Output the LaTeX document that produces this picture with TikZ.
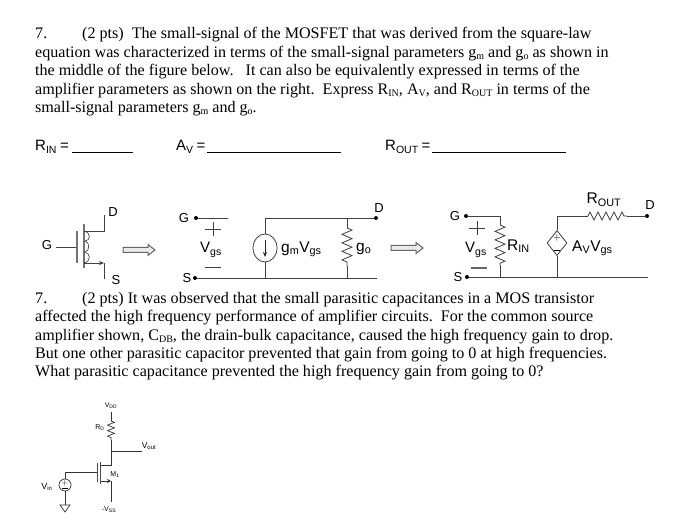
\documentclass[tikz,border=0pt]{standalone}
\usepackage{fontspec}
\setmainfont{Liberation Serif}
\newfontfamily\arialf{Liberation Sans}
\usetikzlibrary{decorations.pathmorphing,shapes.geometric,arrows.meta}
\newcommand{\lowsub}[1]{\textsubscript{#1}}
\newcommand{\parasub}[1]{\raisebox{-1.5pt}{\fontsize{10}{10}\selectfont #1}}
\tikzset{
 para/.style={anchor=base west,inner sep=0pt,font=\fontsize{16.1}{19}\selectfont},
 lab/.style={inner sep=0pt,font=\arialf\fontsize{13}{15}\selectfont},
 labans/.style={inner sep=0pt,anchor=base west,font=\arialf\fontsize{15}{17}\selectfont},
 labbig/.style={inner sep=0pt,font=\arialf\fontsize{15.5}{18}\selectfont},
 tiny lab/.style={inner sep=0pt,font=\arialf\fontsize{7}{8}\selectfont},
 wire/.style={line width=.8pt,draw=black!75},
 thin wire/.style={line width=.7pt,draw=black!80},
 res/.style={wire,decorate,decoration={zigzag,amplitude=4.5pt,segment length=7pt}},
 dotn/.style={circle,fill=black,inner sep=0pt,minimum size=4pt},
 plate/.style={line width=1.5pt,draw=black!55},
 hollow/.style={draw=black!60,fill=blue!6!black!8,line width=1pt,line join=miter}
}
\begin{document}
\begin{tikzpicture}[x=1pt,y=-1pt]
\useasboundingbox[fill=white] (0,0) rectangle (699,521);
% paragraph 1
\node[para] (t1) at (35,39) {7.};
\node[para] (t1b) at (82,39) {(2 pts)\ \ The small-signal of the MOSFET that was derived from the square-law};
\node[para] (t2) at (35,58) {equation was characterized in terms of the small-signal parameters g\parasub{m} and g\parasub{o} as shown in};
\node[para] (t3) at (35,76) {the middle of the figure below.\ \ \ It can also be equivalently expressed in terms of the};
\node[para] (t4) at (35,95) {amplifier parameters as shown on the right.\ \ Express R\parasub{IN}, A\parasub{V}, and R\parasub{OUT} in terms of the};
\node[para] (t5) at (35,113) {small-signal parameters g\parasub{m} and g\parasub{o}.};
% answer row
\node[labans] (rin) at (35,151) {R\lowsub{IN}\kern3pt=};
\node[labans] (av) at (176,151) {A\lowsub{V}\kern3pt=};
\node[labans] (rout) at (385,151) {R\lowsub{OUT}\kern3pt=};
\coordinate (a1) at (72,152); \coordinate (a2) at (133,152);
\coordinate (a3) at (207,152); \coordinate (a4) at (341,152);
\coordinate (a5) at (432,152); \coordinate (a6) at (566,152);
\draw[thin wire,draw=black] (a1)--(a2) (a3)--(a4) (a5)--(a6);
% MOSFET
\node[lab] (mg) at (47,245) {G};
\node[lab] (md) at (113,212) {D};
\node[lab] (ms) at (116,280) {S};
\coordinate (gl) at (56,247); \coordinate (gr) at (77,247);
\coordinate (pt) at (77,231); \coordinate (pb) at (77,263);
\coordinate (ct) at (84,224); \coordinate (cb) at (84,268);
\coordinate (dl) at (84,231); \coordinate (dc) at (104,231); \coordinate (de) at (104,215);
\coordinate (sl) at (84,263); \coordinate (sc) at (104,263); \coordinate (se) at (104,279);
\draw[wire] (gl)--(gr);
\draw[plate] (pt)--(pb) (ct)--(cb);
\draw[wire] (dl)--(dc)--(de);
\draw[wire,-{Stealth[length=5pt,width=4pt]}] (sl)--(sc);
\draw[wire] (sc)--(se);
\draw[line width=.6pt,draw=black!80] (dl) .. controls (92,233) and (90,241) .. (85,241)
  .. controls (90,242) and (90,251) .. (85,252) .. controls (90,253) and (92,261) .. (sl);
\draw[hollow] (123,247.5) -- (148,247.5) -- (148,244.5) -- (155,250) -- (148,255.5) -- (148,252.5) -- (123,252.5) -- cycle;
% middle circuit
\node[lab] (g2) at (184,218) {G};
\node[dotn] (gd2) at (196,218) {};
\coordinate (ge2) at (228,218);
\draw[wire] (gd2)--(ge2);
\coordinate (p2l) at (205,229); \coordinate (p2r) at (221,229);
\coordinate (p2t) at (213,222); \coordinate (p2b) at (213,236);
\draw[wire] (p2l)--(p2r) (p2t)--(p2b);
\node[lab,font=\arialf\fontsize{15}{18}\selectfont] (v2) at (211,250) {V\lowsub{gs}};
\coordinate (m2l) at (205,268); \coordinate (m2r) at (221,268);
\draw[wire,line width=1pt] (m2l)--(m2r);
\node[lab] (s2) at (187,278) {S};
\node[dotn] (sd2) at (195,278) {};
\coordinate (se2) at (377,278);
\draw[wire] (sd2)--(se2);
\coordinate (t2a) at (265,218); \coordinate (b2a) at (265,278);
\node[dotn] (dd2) at (376,218) {};
\node[lab] (d2) at (379,208) {D};
\draw[wire] (t2a)--(dd2);
\node[ellipse,draw=black!75,line width=.8pt,minimum width=24pt,minimum height=28pt,inner sep=0pt] (cs) at (265,248) {};
\draw[wire] (t2a)--(cs.north) (cs.south)--(b2a);
\coordinate (csa) at (265,240); \coordinate (csb) at (265,257);
\draw[line width=.7pt,draw=black!85,-{Stealth[length=5pt,width=4pt]}] (csa)--(csb);
\node[labbig,anchor=west] (gm) at (281,249) {g\lowsub{m}V\lowsub{gs}};
\coordinate (r2t) at (347,218); \coordinate (r2b) at (347,278);
\coordinate (r2a) at (347,228); \coordinate (r2c) at (347,266);
\draw[wire] (r2t)--(r2a) (r2c)--(r2b);
\draw[res,decoration={zigzag,amplitude=5pt,segment length=8.5pt}] (r2a)--(r2c);
\node[labbig,anchor=west] (go) at (356,249) {g\lowsub{o}};
\draw[hollow] (391,245.5) -- (416,245.5) -- (416,242.5) -- (423,248) -- (416,253.5) -- (416,250.5) -- (391,250.5) -- cycle;
% right circuit
\node[lab] (g3) at (455,216) {G};
\node[dotn] (gd3) at (466,216) {};
\coordinate (gc3) at (500,216); \coordinate (gb3) at (500,277);
\coordinate (r3a) at (500,225); \coordinate (r3c) at (500,265);
\draw[wire] (gd3)--(gc3)--(r3a) (r3c)--(gb3);
\draw[res,decoration={zigzag,amplitude=5pt,segment length=8.5pt}] (r3a)--(r3c);
\coordinate (p3l) at (469,228); \coordinate (p3r) at (485,228);
\coordinate (p3t) at (477,221); \coordinate (p3b) at (477,235);
\draw[wire] (p3l)--(p3r) (p3t)--(p3b);
\node[lab,font=\arialf\fontsize{15}{18}\selectfont] (v3) at (476,250) {V\lowsub{gs}};
\coordinate (m3l) at (471,268); \coordinate (m3r) at (487,268);
\draw[wire,line width=1.2pt,draw=black!60] (m3l)--(m3r);
\node[labbig,anchor=west] (rin3) at (507,246) {R\lowsub{IN}};
\node[lab] (s3) at (458,277) {S};
\node[dotn] (sd3) at (467,277) {};
\coordinate (se3) at (648,277);
\draw[wire] (sd3)--(se3);
\node[diamond,draw=black!75,line width=.8pt,minimum width=20pt,minimum height=25pt,inner sep=0pt] (dm) at (557,243) {};
\node[inner sep=0pt,font=\fontsize{10}{11}\selectfont] (dp) at (557,238) {$+$};
\coordinate (dm1) at (554,250); \coordinate (dm2) at (560,250);
\draw[line width=.7pt] (dm1)--(dm2);
\coordinate (wc) at (557,216); \coordinate (b3) at (557,277);
\coordinate (r4a) at (588,216); \coordinate (r4c) at (627,216);
\node[dotn] (dd3) at (647,216) {};
\draw[wire] (dm.north)--(wc)--(r4a) (r4c)--(dd3) (dm.south)--(b3);
\draw[res,decoration={zigzag,amplitude=4pt,segment length=8pt}] (r4a)--(r4c);
\node[labbig] (ro) at (604,200) {R\lowsub{OUT}};
\node[lab] (d3) at (650,205) {D};
\node[labbig,anchor=west] (avg) at (572,248) {A\lowsub{V}V\lowsub{gs}};
% paragraph 2
\node[para] (u1) at (35,304) {7.};
\node[para] (u1b) at (82,304) {(2 pts) It was observed that the small parasitic capacitances in a MOS transistor};
\node[para] (u2) at (35,322) {affected the high frequency performance of amplifier circuits.\ \ For the common source};
\node[para] (u3) at (35,341) {amplifier shown, C\parasub{DB}, the drain-bulk capacitance, caused the high frequency gain to drop.};
\node[para] (u4) at (35,359) {But one other parasitic capacitor prevented that gain from going to 0 at high frequencies.};
\node[para] (u5) at (35,377) {What parasitic capacitance prevented the high frequency gain from going to 0?};
% amplifier
\node[tiny lab] (vdd) at (111,406) {V\lowsub{DD}};
\node[tiny lab] (rd) at (100,428) {R\lowsub{D}};
\node[tiny lab,font=\arialf\fontsize{8.5}{9}\selectfont] (vout) at (149,446) {V\lowsub{out}};
\node[tiny lab] (m1) at (115,475) {M\lowsub{1}};
\node[tiny lab,font=\arialf\fontsize{9}{9}\selectfont] (vin) at (47,487) {V\lowsub{in}};
\node[tiny lab] (vss) at (109,510) {-V\lowsub{SS}};
\coordinate (x0) at (111,412); \coordinate (x1) at (111,421); \coordinate (x2) at (111,440);
\coordinate (xo) at (111,451); \coordinate (xoe) at (142,451);
\coordinate (xd) at (111,465); \coordinate (xdl) at (100,465);
\coordinate (xs) at (111,481); \coordinate (xsl) at (100,481); \coordinate (xe) at (111,502);
\draw[thin wire] (x0)--(x1) (x2)--(xd)--(xdl) (xo)--(xoe);
\draw[line width=.7pt,draw=black!80,decorate,decoration={zigzag,amplitude=3.5pt,segment length=5.5pt}] (x1)--(x2);
\draw[thin wire,-{Stealth[length=4pt,width=4pt]}] (xsl)--(xs);
\draw[thin wire] (xs)--(xe);
\coordinate (c1) at (100,462); \coordinate (c2) at (100,484);
\coordinate (g1) at (97,463); \coordinate (g2a) at (97,482);
\draw[line width=1pt,draw=black!70] (c1)--(c2) (g1)--(g2a);
\node[circle,draw=black!80,line width=.7pt,minimum size=12pt,inner sep=0pt] (src) at (65,485) {};
\node[inner sep=0pt,font=\fontsize{8}{9}\selectfont] (srcp) at (65,483) {$+$};
\coordinate (sm1) at (62,488); \coordinate (sm2) at (68,488);
\draw[line width=.6pt] (sm1)--(sm2);
\coordinate (gw) at (65,472); \coordinate (gn) at (97,472);
\draw[thin wire] (src.north)--(gw)--(gn);
\coordinate (gt) at (65,505); \coordinate (gtl) at (60,505); \coordinate (gtr) at (70,505); \coordinate (gtb) at (65,512);
\draw[thin wire] (src.south)--(gt);
\draw[thin wire] (gtl)--(gtr)--(gtb)--cycle;
\end{tikzpicture}
\end{document}
